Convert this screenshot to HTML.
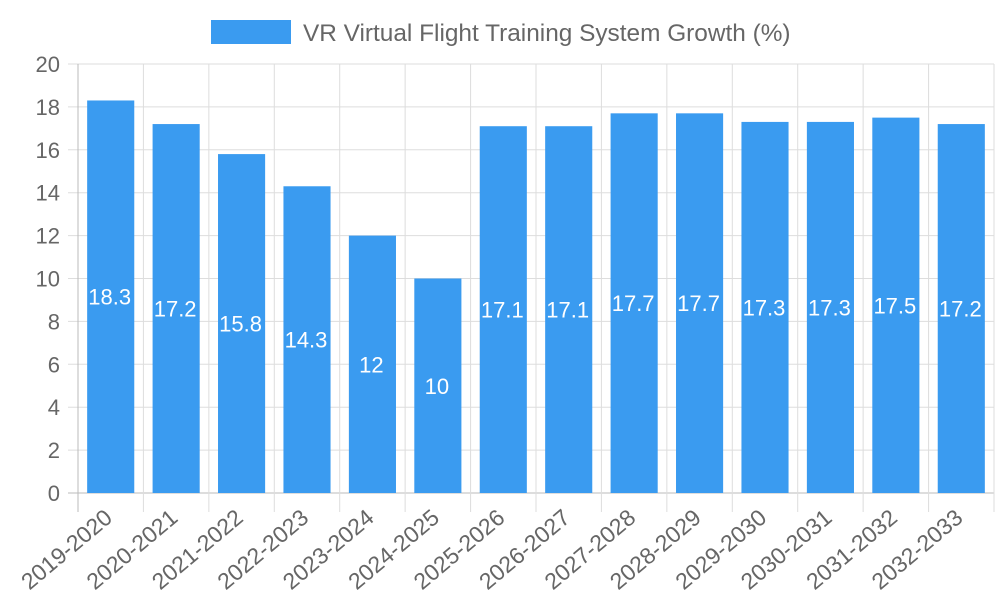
<!DOCTYPE html>
<html><head><meta charset="utf-8"><style>
body{margin:0;background:#fff;}
svg{display:block;font-family:"Liberation Sans",sans-serif;}
</style></head><body>
<svg id="chart" width="1000" height="600"></svg>
<script>
const categories=["2019-2020","2020-2021","2021-2022","2022-2023","2023-2024","2024-2025","2025-2026","2026-2027","2027-2028","2028-2029","2029-2030","2030-2031","2031-2032","2032-2033"];
const values=[18.3,17.2,15.8,14.3,12,10,17.1,17.1,17.7,17.7,17.3,17.3,17.5,17.2];
const yTicks=[0,2,4,6,8,10,12,14,16,18,20];
const seriesName="VR Virtual Flight Training System Growth (%)";

const svg=document.getElementById('chart');
const NS='http://www.w3.org/2000/svg';
const L=78,R=994,T=64,B=493,yMax=20;
const bw=(R-L)/categories.length;
const x=i=>L+bw*i;
const y=v=>B-(v/yMax)*(B-T);
function mk(tag,attrs,parent){const e=document.createElementNS(NS,tag);for(const k in attrs)e.setAttribute(k,attrs[k]);(parent||svg).appendChild(e);return e;}

const lg=mk('g',{});


mk('rect',{x:211,y:20,width:80,height:24,fill:'#3a9bf0'},lg);
const lt=mk('text',{x:303,y:41,'font-size':24.4,fill:'#666'},lg);lt.textContent=seriesName;

const grid=mk('g',{});


yTicks.forEach(t=>{
  mk('line',{x1:68,x2:R,y1:y(t),y2:y(t),stroke:t===0?'#bbb':'#ddd','stroke-width':1},grid);
  const tx=mk('text',{x:60,y:y(t)+8,'font-size':22,fill:'#666','text-anchor':'end'},grid);
  
  
  tx.textContent=t;
});
for(let i=0;i<=categories.length;i++){
  mk('line',{x1:x(i),x2:x(i),y1:T,y2:B+19,stroke:i===0?'#bbb':'#ddd','stroke-width':1},grid);
}

categories.forEach((c,i)=>{
  const cx=x(i)+bw/2, w=bw*0.72;
  const r=mk('rect',{x:cx-w/2,y:y(values[i]),width:w,height:B-y(values[i]),fill:'#3a9bf0'});
  
  
  const vt=mk('text',{x:cx-1,y:(y(values[i])+B)/2+8,'font-size':22,fill:'#fff','text-anchor':'middle'});
  
  
  vt.textContent=values[i];
  const ax=cx+3, ay=520;
  const xt=mk('text',{x:ax,y:ay,'font-size':23,fill:'#666','text-anchor':'end',transform:`rotate(-40 ${ax} ${ay})`});
  
  
  xt.textContent=c;
});
</script>
</body></html>
